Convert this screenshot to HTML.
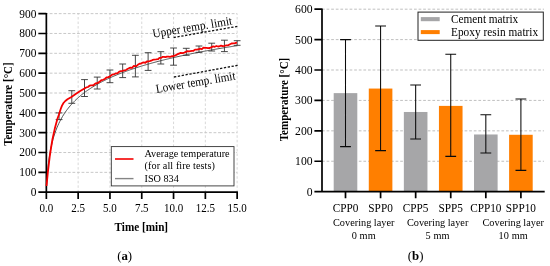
<!DOCTYPE html><html lang="en"><head><title>Temperature charts</title><meta charset="utf-8"><style>html,body{margin:0;padding:0;background:#fff}svg{display:block}text{font-family:"Liberation Serif","DejaVu Serif",serif;fill:#000}</style></head><body>
<svg width="550" height="266" viewBox="0 0 550 266">
<rect width="550" height="266" fill="#fff"/>
<path d="M78.15 13.64V192.20M109.95 13.64V192.20M141.75 13.64V192.20M173.55 13.64V192.20M205.35 13.64V192.20M237.15 13.64V192.20" stroke="#d4d4d4" stroke-width="0.9" stroke-dasharray="2.5 2.05" stroke-dashoffset="1.2" fill="none"/>
<path d="M46.35 172.36H237.15M46.35 152.52H237.15M46.35 132.68H237.15M46.35 112.84H237.15M46.35 93.00H237.15M46.35 73.16H237.15M46.35 53.32H237.15M46.35 33.48H237.15M46.35 13.64H237.15" stroke="#c2c2c2" stroke-width="0.9" stroke-dasharray="2.8 1.75" stroke-dashoffset="1.2" fill="none"/>
<path d="M46.35 188.23 L47.30 174.26 L48.26 164.79 L49.21 157.62 L50.17 151.85 L51.12 147.02 L52.07 142.87 L53.03 139.22 L53.98 135.98 L54.94 133.05 L55.89 130.39 L56.84 127.94 L57.80 125.68 L58.75 123.58 L59.71 121.62 L60.66 119.78 L61.61 118.05 L62.57 116.42 L63.52 114.86 L64.48 113.39 L65.43 111.98 L66.38 110.64 L67.34 109.36 L68.29 108.13 L69.25 106.95 L70.20 105.81 L71.15 104.72 L72.11 103.66 L73.06 102.64 L74.02 101.66 L74.97 100.70 L75.92 99.78 L76.88 98.88 L77.83 98.01 L78.79 97.17 L79.74 96.35 L80.69 95.55 L81.65 94.77 L82.60 94.01 L83.56 93.27 L84.51 92.55 L85.46 91.84 L86.42 91.15 L87.37 90.48 L88.33 89.82 L89.28 89.18 L90.23 88.55 L91.19 87.93 L92.14 87.32 L93.10 86.73 L94.05 86.15 L95.00 85.58 L95.96 85.02 L96.91 84.47 L97.87 83.93 L98.82 83.41 L99.77 82.89 L100.73 82.37 L101.68 81.87 L102.64 81.38 L103.59 80.89 L104.54 80.41 L105.50 79.94 L106.45 79.48 L107.41 79.02 L108.36 78.57 L109.31 78.13 L110.27 77.70 L111.22 77.27 L112.18 76.84 L113.13 76.42 L114.08 76.01 L115.04 75.61 L115.99 75.21 L116.95 74.81 L117.90 74.42 L118.85 74.03 L119.81 73.65 L120.76 73.28 L121.72 72.91 L122.67 72.54 L123.62 72.18 L124.58 71.82 L125.53 71.47 L126.49 71.12 L127.44 70.78 L128.39 70.43 L129.35 70.10 L130.30 69.76 L131.26 69.43 L132.21 69.11 L133.16 68.79 L134.12 68.47 L135.07 68.15 L136.03 67.84 L136.98 67.53 L137.93 67.22 L138.89 66.92 L139.84 66.62 L140.80 66.32 L141.75 66.03 L142.70 65.74 L143.66 65.45 L144.61 65.17 L145.57 64.88 L146.52 64.60 L147.47 64.33 L148.43 64.05 L149.38 63.78 L150.34 63.51 L151.29 63.24 L152.24 62.98 L153.20 62.71 L154.15 62.45 L155.11 62.19 L156.06 61.94 L157.01 61.69 L157.97 61.43 L158.92 61.18 L159.88 60.94 L160.83 60.69 L161.78 60.45 L162.74 60.21 L163.69 59.97 L164.65 59.73 L165.60 59.49 L166.55 59.26 L167.51 59.03 L168.46 58.80 L169.42 58.57 L170.37 58.34 L171.32 58.12 L172.28 57.90 L173.23 57.67 L174.19 57.45 L175.14 57.24 L176.09 57.02 L177.05 56.80 L178.00 56.59 L178.96 56.38 L179.91 56.17 L180.86 55.96 L181.82 55.75 L182.77 55.54 L183.73 55.34 L184.68 55.14 L185.63 54.93 L186.59 54.73 L187.54 54.53 L188.50 54.34 L189.45 54.14 L190.40 53.94 L191.36 53.75 L192.31 53.56 L193.27 53.37 L194.22 53.18 L195.17 52.99 L196.13 52.80 L197.08 52.61 L198.04 52.43 L198.99 52.24 L199.94 52.06 L200.90 51.88 L201.85 51.69 L202.81 51.51 L203.76 51.34 L204.71 51.16 L205.67 50.98 L206.62 50.81 L207.58 50.63 L208.53 50.46 L209.48 50.28 L210.44 50.11 L211.39 49.94 L212.35 49.77 L213.30 49.60 L214.25 49.44 L215.21 49.27 L216.16 49.10 L217.12 48.94 L218.07 48.77 L219.02 48.61 L219.98 48.45 L220.93 48.29 L221.89 48.13 L222.84 47.97 L223.79 47.81 L224.75 47.65 L225.70 47.49 L226.66 47.34 L227.61 47.18 L228.56 47.03 L229.52 46.87 L230.47 46.72 L231.43 46.57 L232.38 46.42 L233.33 46.27 L234.29 46.12 L235.24 45.97 L236.20 45.82 L237.15 45.67" stroke="#333" stroke-width="0.85" fill="none"/>
<path d="M59.07 112.9V119.6M55.67 112.9H62.47M55.67 119.6H62.47M71.79 90.7V103.3M68.39 90.7H75.19M68.39 103.3H75.19M84.51 79.6V96.5M81.11 79.6H87.91M81.11 96.5H87.91M97.23 77.1V89M93.83 77.1H100.63M93.83 89H100.63M109.95 70V82.7M106.55 70H113.35M106.55 82.7H113.35M122.67 64V77.6M119.27 64H126.07M119.27 77.6H126.07M135.39 55.3V76.9M131.99 55.3H138.79M131.99 76.9H138.79M148.11 52.7V70.4M144.71 52.7H151.51M144.71 70.4H151.51M160.83 51.7V64M157.43 51.7H164.23M157.43 64H164.23M173.55 48V65.2M170.15 48H176.95M170.15 65.2H176.95M186.27 48.3V55.3M182.87 48.3H189.67M182.87 55.3H189.67M198.99 46V52.3M195.59 46H202.39M195.59 52.3H202.39M211.71 43.2V51M208.31 43.2H215.11M208.31 51H215.11M224.43 40.2V51.6M221.03 40.2H227.83M221.03 51.6H227.83M237.15 40.7V45.3M233.75 40.7H240.55M233.75 45.3H240.55" stroke="#333" stroke-width="0.9" fill="none"/>
<path d="M173.6 37.5L237.3 26.4M174 77L237.8 65.3" stroke="#111" stroke-width="1.3" stroke-dasharray="2.3 1.6" fill="none"/>
<text transform="translate(153.20 37.80) rotate(-9.6) scale(1 1.1)" font-size="11.2" textLength="80.5" lengthAdjust="spacing">Upper temp. limit</text>
<text transform="translate(156.60 92.90) rotate(-9.6) scale(1 1.1)" font-size="11.2" textLength="80.5" lengthAdjust="spacing">Lower temp. limit</text>
<path d="M46.35 12.89V192.95M45.60 192.20H237.90M38.35 192.20H46.35M38.35 172.36H46.35M38.35 152.52H46.35M38.35 132.68H46.35M38.35 112.84H46.35M38.35 93.00H46.35M38.35 73.16H46.35M38.35 53.32H46.35M38.35 33.48H46.35M38.35 13.64H46.35M46.35 192.20V199.10M78.15 192.20V199.10M109.95 192.20V199.10M141.75 192.20V199.10M173.55 192.20V199.10M205.35 192.20V199.10M237.15 192.20V199.10" stroke="#000" stroke-width="1.7" fill="none"/>
<path d="M46.5 186.0 L48.0 171.0 L49.8 156.0 L51.0 148.0 L52.5 139.0 L54.8 128.6 L57.5 118.5 L58.8 115.0 L60.7 109.0 L62.0 105.6 L63.5 103.0 L65.3 101.0 L67.5 99.3 L71.4 96.9 L76.4 93.6 L80.2 91.0 L84.5 88.4 L86.25 87.45 L88.0 87.0 L89.5 85.71 L91.0 85.4 L92.5 85.31 L94.0 84.8 L95.6 83.4 L97.2 83.2 L98.65 82.4 L100.1 81.31 L101.55 80.03 L103.0 79.8 L104.75 78.96 L106.5 77.45 L108.25 77.16 L110.0 76.4 L111.5 75.05 L113.0 74.33 L114.5 74.04 L116.0 73.4 L117.65 73.21 L119.3 71.57 L120.95 71.06 L122.6 70.8 L124.2 70.33 L125.8 70.13 L127.4 68.96 L129.0 68.2 L130.55 67.53 L132.1 67.82 L133.65 65.99 L135.2 66.1 L136.65 65.98 L138.1 64.56 L139.55 63.73 L141.0 63.6 L142.46 62.64 L143.92 62.49 L145.38 62.78 L146.84 61.47 L148.3 61.5 L149.73 61.14 L151.15 60.74 L152.57 59.9 L154.0 59.6 L156.0 59.47 L158.0 59.2 L159.45 57.94 L160.9 57.9 L162.43 56.96 L163.95 56.84 L165.47 57.18 L167.0 56.6 L168.5 56.6 L170.0 56.8 L171.7 56.24 L173.4 56.2 L175.27 55.45 L177.13 54.4 L179.0 53.6 L180.75 52.87 L182.5 53.11 L184.25 52.53 L186.0 51.8 L187.5 51.19 L189.0 51.4 L190.5 51.09 L192.0 50.8 L193.5 50.73 L195.0 49.6 L196.9 49.72 L198.8 49.2 L200.35 48.58 L201.9 49.22 L203.45 47.69 L205.0 47.9 L206.5 47.94 L208.0 48.2 L209.8 48.01 L211.6 47.1 L213.2 46.46 L214.8 46.78 L216.4 46.0 L218.0 46.5 L219.5 46.29 L221.0 45.6 L222.75 46.12 L224.5 45.9 L226.33 45.44 L228.17 45.29 L230.0 44.2 L231.5 43.49 L233.0 43.3 L235.0 43.22 L237 42.6" stroke="#f40000" stroke-width="1.8" fill="none" stroke-linejoin="round"/>
<text transform="translate(36.35 196.10) scale(1 1.06)" font-size="11.4" text-anchor="end">0</text>
<text transform="translate(36.35 176.26) scale(1 1.06)" font-size="11.4" text-anchor="end">100</text>
<text transform="translate(36.35 156.42) scale(1 1.06)" font-size="11.4" text-anchor="end">200</text>
<text transform="translate(36.35 136.58) scale(1 1.06)" font-size="11.4" text-anchor="end">300</text>
<text transform="translate(36.35 116.74) scale(1 1.06)" font-size="11.4" text-anchor="end">400</text>
<text transform="translate(36.35 96.90) scale(1 1.06)" font-size="11.4" text-anchor="end">500</text>
<text transform="translate(36.35 77.06) scale(1 1.06)" font-size="11.4" text-anchor="end">600</text>
<text transform="translate(36.35 57.22) scale(1 1.06)" font-size="11.4" text-anchor="end">700</text>
<text transform="translate(36.35 37.38) scale(1 1.06)" font-size="11.4" text-anchor="end">800</text>
<text transform="translate(36.35 17.54) scale(1 1.06)" font-size="11.4" text-anchor="end">900</text>
<text transform="translate(46.35 212.30) scale(1 1.1)" font-size="11" text-anchor="middle">0.0</text>
<text transform="translate(78.15 212.30) scale(1 1.1)" font-size="11" text-anchor="middle">2.5</text>
<text transform="translate(109.95 212.30) scale(1 1.1)" font-size="11" text-anchor="middle">5.0</text>
<text transform="translate(141.75 212.30) scale(1 1.1)" font-size="11" text-anchor="middle">7.5</text>
<text transform="translate(173.55 212.30) scale(1 1.1)" font-size="11" text-anchor="middle">10.0</text>
<text transform="translate(205.35 212.30) scale(1 1.1)" font-size="11" text-anchor="middle">12.5</text>
<text transform="translate(237.15 212.30) scale(1 1.1)" font-size="11" text-anchor="middle">15.0</text>
<text transform="translate(141.30 231.00) scale(1 1.06)" font-size="11.2" text-anchor="middle" font-weight="bold">Time [min]</text>
<text transform="translate(12.20 104.10) rotate(-90) scale(1 1.06)" font-size="11.0" text-anchor="middle" font-weight="bold">Temperature [°C]</text>
<rect x="111.3" y="146.6" width="122.7" height="39.3" fill="#fff" stroke="#333" stroke-width="0.9"/>
<path d="M115 159H133.5" stroke="#f40000" stroke-width="1.6"/><path d="M115 178.6H133.5" stroke="#858585" stroke-width="1.4"/>
<text transform="translate(144.50 156.60) scale(1 1.1)" font-size="10.2" textLength="85.1" lengthAdjust="spacing">Average temperature</text>
<text transform="translate(144.50 168.70) scale(1 1.1)" font-size="10.2" textLength="70.5" lengthAdjust="spacing">(for all fire tests)</text>
<text transform="translate(144.50 181.80) scale(1 1.1)" font-size="10.2">ISO 834</text>
<text x="124.6" y="259.8" font-size="12.8" text-anchor="middle">(<tspan font-weight="bold">a</tspan>)</text>
<path d="M322.00 161.24H544M322.00 130.83H544M322.00 100.42H544M322.00 70.01H544M322.00 39.60H544M322.00 9.19H544" stroke="#b8b8b8" stroke-width="0.9" stroke-dasharray="2.7 1.9" stroke-dashoffset="0" fill="none"/>
<rect x="333.70" y="93.12" width="23.6" height="98.53" fill="#a6a6a8"/>
<rect x="368.78" y="88.56" width="23.6" height="103.09" fill="#ff7f00"/>
<rect x="403.86" y="111.98" width="23.6" height="79.67" fill="#a6a6a8"/>
<rect x="438.94" y="105.89" width="23.6" height="85.76" fill="#ff7f00"/>
<rect x="474.02" y="134.48" width="23.6" height="57.17" fill="#a6a6a8"/>
<rect x="509.10" y="134.78" width="23.6" height="56.87" fill="#ff7f00"/>
<path d="M345.50 39.60V146.64M340.10 39.60H350.90M340.10 146.64H350.90M380.58 25.92V150.60M375.18 25.92H385.98M375.18 150.60H385.98M415.66 84.91V139.04M410.26 84.91H421.06M410.26 139.04H421.06M450.74 54.20V156.37M445.34 54.20H456.14M445.34 156.37H456.14M485.82 114.71V153.03M480.42 114.71H491.22M480.42 153.03H491.22M520.90 98.90V170.36M515.50 98.90H526.30M515.50 170.36H526.30" stroke="#0a0a0a" stroke-width="1.05" fill="none"/>
<path d="M322.00 8.44V192.40M321.25 191.65H544.7M314.40 191.65H322.00M314.40 161.24H322.00M314.40 130.83H322.00M314.40 100.42H322.00M314.40 70.01H322.00M314.40 39.60H322.00M314.40 9.19H322.00M345.50 191.65V198.25M380.58 191.65V198.25M415.66 191.65V198.25M450.74 191.65V198.25M485.82 191.65V198.25M520.90 191.65V198.25" stroke="#000" stroke-width="1.7" fill="none"/>
<text transform="translate(312.60 195.65) scale(1 1.04)" font-size="11.7" text-anchor="end">0</text>
<text transform="translate(312.60 165.24) scale(1 1.04)" font-size="11.7" text-anchor="end">100</text>
<text transform="translate(312.60 134.83) scale(1 1.04)" font-size="11.7" text-anchor="end">200</text>
<text transform="translate(312.60 104.42) scale(1 1.04)" font-size="11.7" text-anchor="end">300</text>
<text transform="translate(312.60 74.01) scale(1 1.04)" font-size="11.7" text-anchor="end">400</text>
<text transform="translate(312.60 43.60) scale(1 1.04)" font-size="11.7" text-anchor="end">500</text>
<text transform="translate(312.60 13.19) scale(1 1.04)" font-size="11.7" text-anchor="end">600</text>
<text transform="translate(345.50 211.60) scale(1 1.17)" font-size="11.3" text-anchor="middle">CPP0</text>
<text transform="translate(380.58 211.60) scale(1 1.17)" font-size="11.3" text-anchor="middle">SPP0</text>
<text transform="translate(415.66 211.60) scale(1 1.17)" font-size="11.3" text-anchor="middle">CPP5</text>
<text transform="translate(450.74 211.60) scale(1 1.17)" font-size="11.3" text-anchor="middle">SPP5</text>
<text transform="translate(485.82 211.60) scale(1 1.17)" font-size="11.3" text-anchor="middle">CPP10</text>
<text transform="translate(520.90 211.60) scale(1 1.17)" font-size="11.3" text-anchor="middle">SPP10</text>
<text transform="translate(363.70 226.20) scale(1 1.05)" font-size="10.3" text-anchor="middle">Covering layer</text>
<text transform="translate(363.70 239.30) scale(1 1.08)" font-size="10.3" text-anchor="middle" textLength="24.0" lengthAdjust="spacing">0 mm</text>
<text transform="translate(437.60 226.20) scale(1 1.05)" font-size="10.3" text-anchor="middle">Covering layer</text>
<text transform="translate(437.60 239.30) scale(1 1.08)" font-size="10.3" text-anchor="middle" textLength="24.0" lengthAdjust="spacing">5 mm</text>
<text transform="translate(513.20 226.20) scale(1 1.05)" font-size="10.3" text-anchor="middle">Covering layer</text>
<text transform="translate(513.20 239.30) scale(1 1.08)" font-size="10.3" text-anchor="middle" textLength="29.2" lengthAdjust="spacing">10 mm</text>
<text transform="translate(288.00 99.50) rotate(-90) scale(1 1.06)" font-size="11.0" text-anchor="middle" font-weight="bold">Temperature [°C]</text>
<rect x="418" y="12.1" width="125.3" height="28.2" fill="#fff" stroke="#222" stroke-width="1"/>
<rect x="420.8" y="17.1" width="18.9" height="4.1" fill="#a6a6a8"/><rect x="420.8" y="30.1" width="18.9" height="4" fill="#ff7f00"/>
<text transform="translate(451.00 23.40) scale(1 1.1)" font-size="11.3" textLength="67.2" lengthAdjust="spacing">Cement matrix</text>
<text transform="translate(451.00 36.30) scale(1 1.1)" font-size="11.3" textLength="87.2" lengthAdjust="spacing">Epoxy resin matrix</text>
<text x="415.6" y="259.8" font-size="12.8" text-anchor="middle">(<tspan font-weight="bold">b</tspan>)</text>
</svg></body></html>
